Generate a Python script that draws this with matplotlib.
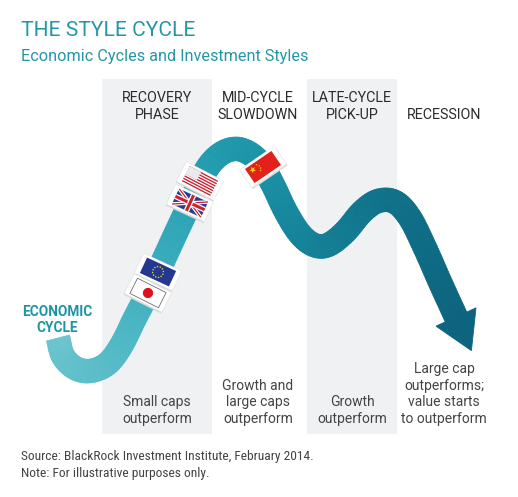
import numpy as np
import matplotlib
matplotlib.use("Agg")
import matplotlib.pyplot as plt
from matplotlib import font_manager
from matplotlib.patches import Rectangle, Circle, Polygon
from matplotlib.collections import PolyCollection
from matplotlib.colors import LinearSegmentedColormap
from matplotlib.bezier import BezierSegment
from matplotlib.transforms import Affine2D

# chart content
title = "THE STYLE CYCLE"
subtitle = "Economic Cycles and Investment Styles"
phases = ["RECOVERY\nPHASE", "MID-CYCLE\nSLOWDOWN", "LATE-CYCLE\nPICK-UP", "RECESSION"]
styles = ["Small caps\noutperform", "Growth and\nlarge caps\noutperform",
          "Growth\noutperform", "Large cap\noutperforms;\nvalue starts\nto outperform"]
cycle_label = "ECONOMIC\nCYCLE"
flags = ["Japan", "EU", "UK", "US", "China"]
source = "Source: BlackRock Investment Institute, February 2014."
note = "Note: For illustrative purposes only."

# layout, in pixels with y running down
col_x = [157, 258, 352, 444]
shaded = [(102, 212), (307, 397)]
col_top, col_bottom = 79, 434
route_x = [58, 63, 75, 90, 107, 121, 135, 148, 158, 175, 190, 200, 211, 224, 238,
           252, 263, 274, 286, 300, 314, 328, 345, 362, 378, 395, 410, 425, 440, 456]
route_y = [338, 356, 368, 371, 364, 346, 318, 293, 272, 235, 203, 181, 163, 152, 149,
           155, 167, 187, 212, 234, 245, 245, 232, 212, 201, 202, 218, 248, 282, 317]
flag_x = [148, 158, 190, 201, 263]
flag_y = [293, 272, 203, 181, 167]

TEAL = "#2596a8"
TEXT = "#444444"

fig = plt.figure(figsize=(5.18, 4.97), dpi=100)
ax = fig.add_axes([0, 0, 1, 1])
ax.set_xlim(0, 518)
ax.set_ylim(497, 0)
ax.axis("off")


def lines_text(x, baselines, txt, **kw):
    for yb, line in zip(baselines, txt.split("\n")):
        ax.text(x, yb, line, va="baseline", **kw)


# titles
ax.text(21, 36.5, title, fontsize=15.1, color=TEAL, family="Roboto", va="baseline")
ax.text(21, 61, subtitle, fontsize=11.7, color=TEAL, family="Roboto", va="baseline")

# shaded phase columns
for x0, x1 in shaded:
    ax.add_patch(Rectangle((x0, col_top), x1 - x0, col_bottom - col_top,
                           fc="#f0f1f3", ec="none", zorder=0))

# phase headers (bottom aligned)
for x, ph in zip(col_x, phases):
    n = ph.count("\n") + 1
    base = [119 - 17 * (n - 1 - i) for i in range(n)]
    lines_text(x, base, ph, ha="center", fontsize=10.3, color="#2b2b2b", family="Roboto")

# style outcomes (bottom aligned)
for x, st in zip(col_x, styles):
    n = st.count("\n") + 1
    base = [423 - 16.6 * (n - 1 - i) for i in range(n)]
    lines_text(x, base, st, ha="center", fontsize=10, color=TEXT, family="Roboto")

lines_text(57, [316.5, 331.5], cycle_label, ha="center", fontsize=9.8,
           color="#1b95a6", family="Roboto", fontweight="bold")

# footnotes in a condensed face when one is available
installed = {f.name for f in font_manager.fontManager.ttflist}
narrow, nsize = "Liberation Sans", 8.9
for cand in ["Roboto Condensed", "Liberation Sans Narrow", "Open Sans Condensed"]:
    if cand in installed:
        narrow, nsize = cand, 9.7
        break
ax.text(21, 460, source, fontsize=nsize, color=TEXT, family=narrow, va="baseline")
ax.text(21, 477.5, note, fontsize=nsize, color=TEXT, family=narrow, va="baseline")

# ribbon centre line: Catmull-Rom through the route, as cubic Bezier pieces
pts = np.column_stack([route_x, route_y]).astype(float)
ext = np.vstack([2 * pts[0] - pts[1], pts, 2 * pts[-1] - pts[-2]])
curve = []
for i in range(1, len(ext) - 2):
    p0, p1, p2, p3 = ext[i - 1], ext[i], ext[i + 1], ext[i + 2]
    seg = BezierSegment(np.array([p1, p1 + (p2 - p0) / 6, p2 - (p3 - p1) / 6, p2]))
    tt = np.linspace(0, 1, 12, endpoint=False)
    curve.append(seg(tt))
curve.append(pts[-1:])
c = np.vstack(curve)

d = np.gradient(c, axis=0)
d /= np.linalg.norm(d, axis=1)[:, None]
nrm = np.column_stack([-d[:, 1], d[:, 0]])
s = np.concatenate([[0], np.cumsum(np.linalg.norm(np.diff(c, axis=0), axis=1))])
s /= s[-1]
half = 11.8
left = c + nrm * half
right = c - nrm * half

cmap = LinearSegmentedColormap.from_list(
    "ribbon", ["#6ac5cf", "#45b2c1", "#25a0b3", "#16889e", "#0f7189", "#0d647e"])
quads = [[left[i], left[i + 1], right[i + 1], right[i]] for i in range(len(c) - 1)]
cols = cmap((s[:-1] + s[1:]) / 2)
ax.add_collection(PolyCollection(quads, facecolors=cols, edgecolors=cols,
                                 linewidths=0.6, zorder=2))

# arrow head
E, D, N = c[-1], d[-1], nrm[-1]
ax.add_patch(Polygon([E + N * 22, E + D * 37, E - N * 22], closed=True,
                     fc=cmap(1.0), ec=cmap(1.0), lw=0.6, zorder=2))


# flags laid across the ribbon
def star(cx, cy, r):
    a = np.deg2rad(-90 + 36 * np.arange(10))
    rr = np.where(np.arange(10) % 2 == 0, r, r * 0.4)
    return np.column_stack([cx + rr * np.cos(a), cy + rr * np.sin(a)])


def draw_flag(kind, cx, cy, ang):
    tr = Affine2D().rotate_deg(ang).translate(cx, cy) + ax.transData
    W, H = 32, 17
    # soft shadow and white band
    ax.add_patch(Rectangle((-21, -H / 2 - 1), 42, H + 5, fc="#d9dadc", ec="none",
                           transform=tr, zorder=4))
    ax.add_patch(Rectangle((-21, -H / 2 - 2.5), 42, H + 5, fc="white", ec="#dddddd",
                           lw=0.3, transform=tr, zorder=5))
    bg = {"Japan": "white", "EU": "#23398f", "UK": "#233f8e", "US": "white",
          "China": "#e3211c"}[kind]
    body = Rectangle((-W / 2, -H / 2), W, H, fc=bg, ec="#555555" if kind == "Japan" else "none",
                     lw=0.5, transform=tr, zorder=6)
    ax.add_patch(body)
    z = 7
    if kind == "Japan":
        ax.add_patch(Circle((0, 0), H * 0.3, fc="#e0101e", ec="none", transform=tr, zorder=z))
    elif kind == "EU":
        for a in np.linspace(0, 2 * np.pi, 12, endpoint=False):
            ax.add_patch(Circle((5.4 * np.cos(a), 5.4 * np.sin(a)), 0.75, fc="#f4d21b",
                                ec="none", transform=tr, zorder=z))
    elif kind == "UK":
        segs = [((-W / 2, -H / 2), (W / 2, H / 2)), ((-W / 2, H / 2), (W / 2, -H / 2))]
        for (x0, y0), (x1, y1) in segs:
            for lw, col in ((2.6, "white"), (0.9, "#d0202e")):
                ln, = ax.plot([x0, x1], [y0, y1], color=col, lw=lw, transform=tr,
                              zorder=z, solid_capstyle="butt")
                ln.set_clip_path(body)
        for (x0, y0), (x1, y1) in [((-W / 2, 0), (W / 2, 0)), ((0, -H / 2), (0, H / 2))]:
            for lw, col in ((4.0, "white"), (2.2, "#d0202e")):
                ln, = ax.plot([x0, x1], [y0, y1], color=col, lw=lw, transform=tr,
                              zorder=z + 1, solid_capstyle="butt")
                ln.set_clip_path(body)
    elif kind == "US":
        sh = H / 13
        for k in range(0, 13, 2):
            ax.add_patch(Rectangle((-W / 2, -H / 2 + k * sh), W, sh, fc="#c8202f",
                                   ec="none", transform=tr, zorder=z))
        ax.add_patch(Rectangle((-W / 2, -H / 2), W * 0.4, 7 * sh, fc="#e9e9ef",
                               ec="none", transform=tr, zorder=z + 1))
    elif kind == "China":
        ax.add_patch(Polygon(star(-W / 2 + 6, -H / 2 + 5, 3.4), fc="#ffde00", ec="none",
                             transform=tr, zorder=z))
        for sx, sy in [(-4, -5.5), (-2.5, -3), (-2.5, -0.5), (-4, 1.5)]:
            ax.add_patch(Polygon(star(sx, sy, 1.1), fc="#ffde00", ec="none",
                                 transform=tr, zorder=z))


for kind, fx, fy in zip(flags, flag_x, flag_y):
    k = np.argmin((c[:, 0] - fx) ** 2 + (c[:, 1] - fy) ** 2)
    n = nrm[k] if nrm[k][0] > 0 else -nrm[k]
    draw_flag(kind, c[k, 0], c[k, 1], np.degrees(np.arctan2(n[1], n[0])))

fig.savefig("out.png", dpi=100, facecolor="white")
